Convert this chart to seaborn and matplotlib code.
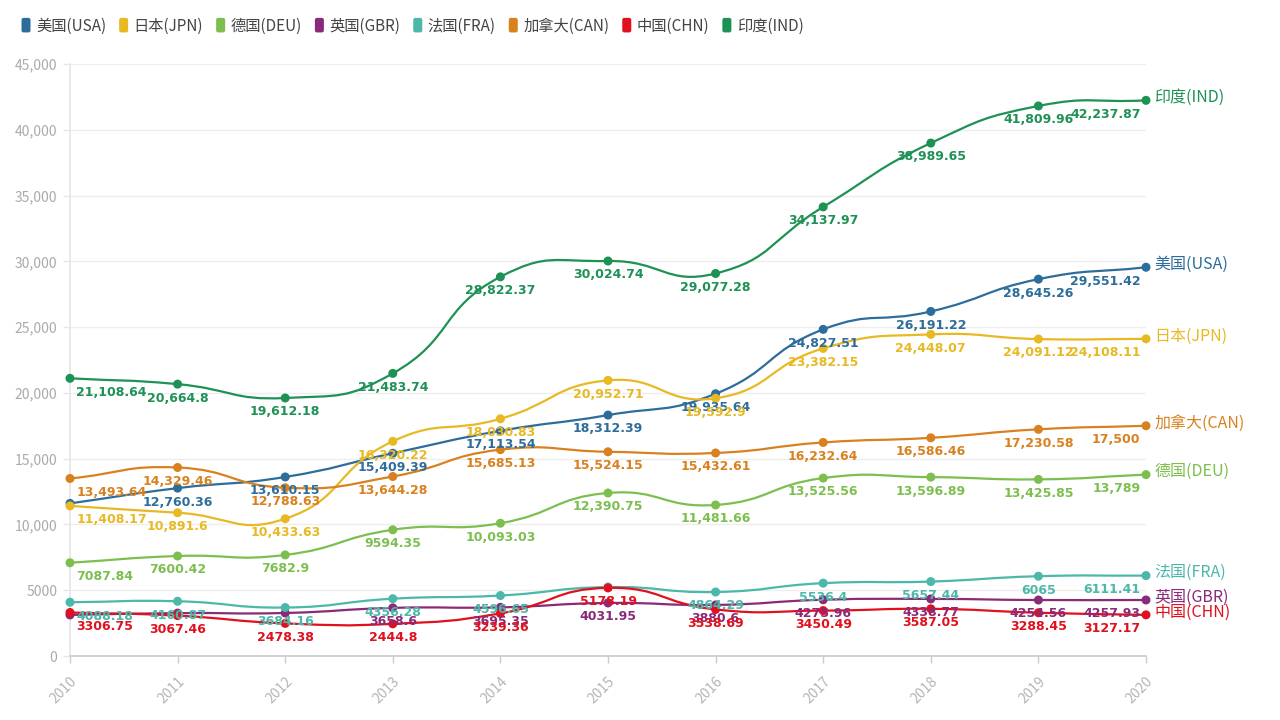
import numpy as np
import pandas as pd
import matplotlib
matplotlib.use('Agg')
import matplotlib.pyplot as plt
from matplotlib.path import Path
from matplotlib.patches import PathPatch, Patch, FancyBboxPatch
from matplotlib.legend_handler import HandlerPatch
from matplotlib.ticker import FuncFormatter
import seaborn as sns

years = [2010, 2011, 2012, 2013, 2014, 2015, 2016, 2017, 2018, 2019, 2020]

usa = [11600, 12760.36, 13610.15, 15409.39, 17113.54, 18312.39, 19935.64, 24827.51, 26191.22, 28645.26, 29551.42]
jpn = [11408.17, 10891.6, 10433.63, 16320.22, 18030.83, 20952.71, 19592.9, 23382.15, 24448.07, 24091.12, 24108.11]
deu = [7087.84, 7600.42, 7682.9, 9594.35, 10093.03, 12390.75, 11481.66, 13525.56, 13596.89, 13425.85, 13789]
gbr = [3120, 3260, 3270, 3658.6, 3695.35, 4031.95, 3880.6, 4275.96, 4338.77, 4254.56, 4257.93]
fra = [4088.18, 4160.87, 3684.16, 4356.28, 4596.65, 5240, 4864.29, 5536.4, 5657.44, 6065, 6111.41]
can = [13493.64, 14329.46, 12788.63, 13644.28, 15685.13, 15524.15, 15432.61, 16232.64, 16586.46, 17230.58, 17500]
chn = [3306.75, 3067.46, 2478.38, 2444.8, 3239.36, 5178.19, 3538.69, 3450.49, 3587.05, 3288.45, 3127.17]
ind = [21108.64, 20664.8, 19612.18, 21483.74, 28822.37, 30024.74, 29077.28, 34137.97, 38989.65, 41809.96, 42237.87]

names = ['美国(USA)', '日本(JPN)', '德国(DEU)', '英国(GBR)', '法国(FRA)', '加拿大(CAN)', '中国(CHN)', '印度(IND)']
series = [usa, jpn, deu, gbr, fra, can, chn, ind]
colors = ['#2d6d9b', '#e8b923', '#7dbf4f', '#8a2a78', '#4bb8a9', '#d9811f', '#e0101e', '#1e9155']

# labels that are covered / not shown in the original
hidden = {('美国(USA)', 2010), ('英国(GBR)', 2010), ('英国(GBR)', 2011),
          ('英国(GBR)', 2012), ('法国(FRA)', 2015)}

rows = []
for n, vals in zip(names, series):
    for y, v in zip(years, vals):
        rows.append({'year': y, 'value': v, 'country': n})
df = pd.DataFrame(rows)
palette = dict(zip(names, colors))

sns.set_theme(style='white')
plt.rcParams['font.family'] = ['Noto Sans CJK SC', 'DejaVu Sans']

fig = plt.figure(figsize=(12.8, 7.2), dpi=100)
ax = fig.add_axes([70 / 1280, 64 / 720, 1076 / 1280, 592 / 720])
ax.set_xlim(2010, 2020)
ax.set_ylim(0, 45000)

# pixel scale, used so the curve smoothing behaves like the original renderer
sx = 1076 / 10.0
sy = 592 / 45000.0


def smooth_path(xs, ys, smooth=0.5):
    px = np.asarray(xs, float) * sx
    py = np.asarray(ys, float) * sy
    n = len(px)
    cin, cout = [], []
    for i in range(n):
        p = i - 1 if i > 0 else i
        q = i + 1 if i < n - 1 else i
        vx, vy = px[q] - px[p], py[q] - py[p]
        d0 = np.hypot(px[i] - px[p], py[i] - py[p])
        d1 = np.hypot(px[q] - px[i], py[q] - py[i])
        r = d1 / (d0 + d1) if d0 + d1 > 0 else 0.5
        cin.append((px[i] - vx * smooth * (1 - r), py[i] - vy * smooth * (1 - r)))
        cout.append((px[i] + vx * smooth * r, py[i] + vy * smooth * r))
    verts = [(px[0], py[0])]
    codes = [Path.MOVETO]
    for i in range(n - 1):
        verts += [cout[i], cin[i + 1], (px[i + 1], py[i + 1])]
        codes += [Path.CURVE4] * 3
    verts = [(a / sx, b / sy) for a, b in verts]
    return Path(verts, codes)


for n, vals, c in zip(names, series, colors):
    ax.add_patch(PathPatch(smooth_path(years, vals), facecolor='none', edgecolor=c,
                           lw=1.6, zorder=2, clip_on=False))

sns.scatterplot(data=df, x='year', y='value', hue='country', palette=palette, s=42,
                edgecolor='none', linewidth=0, legend=False, zorder=4, clip_on=False, ax=ax)


def fmt(v):
    if v >= 10000:
        s = f'{v:,.2f}'
    else:
        s = f'{v:.2f}'
    return s.rstrip('0').rstrip('.')


for n, vals, c in zip(names, series, colors):
    for y, v in zip(years, vals):
        if (n, y) in hidden:
            continue
        if y == years[0]:
            ha, dx = 'left', 4.5
        elif y == years[-1]:
            ha, dx = 'right', -4
        else:
            ha, dx = 'center', 0
        ax.annotate(fmt(v), (y, v), xytext=(dx, -10), textcoords='offset points',
                    ha=ha, va='center', color=c, fontsize=9, fontweight='bold',
                    family='DejaVu Sans', zorder=6, annotation_clip=False)
    ax.annotate(n, (years[-1], vals[-1]), xytext=(6, 2), textcoords='offset points',
                ha='left', va='center', color=c, fontsize=11.5, annotation_clip=False)

ax.yaxis.set_major_locator(plt.MultipleLocator(5000))
ax.yaxis.set_major_formatter(FuncFormatter(lambda v, p: f'{v:,.0f}' if v >= 10000 else f'{v:.0f}'))
ax.set_xticks(years)
ax.set_xticklabels([str(y) for y in years], rotation=45, ha='right', rotation_mode='anchor')
ax.tick_params(axis='x', colors='#cccccc', labelcolor='#b5b5b5', labelsize=10,
               length=5, width=1, direction='out', bottom=True, pad=8)
ax.tick_params(axis='y', colors='#e6e6e6', labelcolor='#aaaaaa', labelsize=10,
               length=5, width=1, direction='out', left=True, pad=4)
ax.yaxis.grid(True, color='#eeeeee', lw=1)
ax.xaxis.grid(False)
for s in ['top', 'right']:
    ax.spines[s].set_visible(False)
ax.spines['bottom'].set_color('#cccccc')
ax.spines['left'].set_color('#e6e6e6')
ax.set_xlabel('')
ax.set_ylabel('')


class RoundSwatch(HandlerPatch):
    def create_artists(self, legend, orig_handle, xdescent, ydescent, width, height, fontsize, trans):
        w, h = 6.5, 10.5
        x0 = -xdescent + (width - w) / 2
        y0 = -ydescent + (height - h) / 2
        p = FancyBboxPatch((x0, y0), w, h, boxstyle='round,pad=0,rounding_size=1.5',
                           facecolor=orig_handle.get_facecolor(), edgecolor='none', transform=trans)
        return [p]


handles = [Patch(facecolor=c, edgecolor='none', label=n) for n, c in zip(names, colors)]
fig.legend(handles=handles, loc='upper left', bbox_to_anchor=(0.006, 0.995), ncol=8,
           frameon=False, handlelength=0.6, handleheight=1.1, handletextpad=0.35,
           columnspacing=0.85, fontsize=11, labelcolor='#444444',
           handler_map={Patch: RoundSwatch()})

fig.savefig('out.png', dpi=100, facecolor='white')
